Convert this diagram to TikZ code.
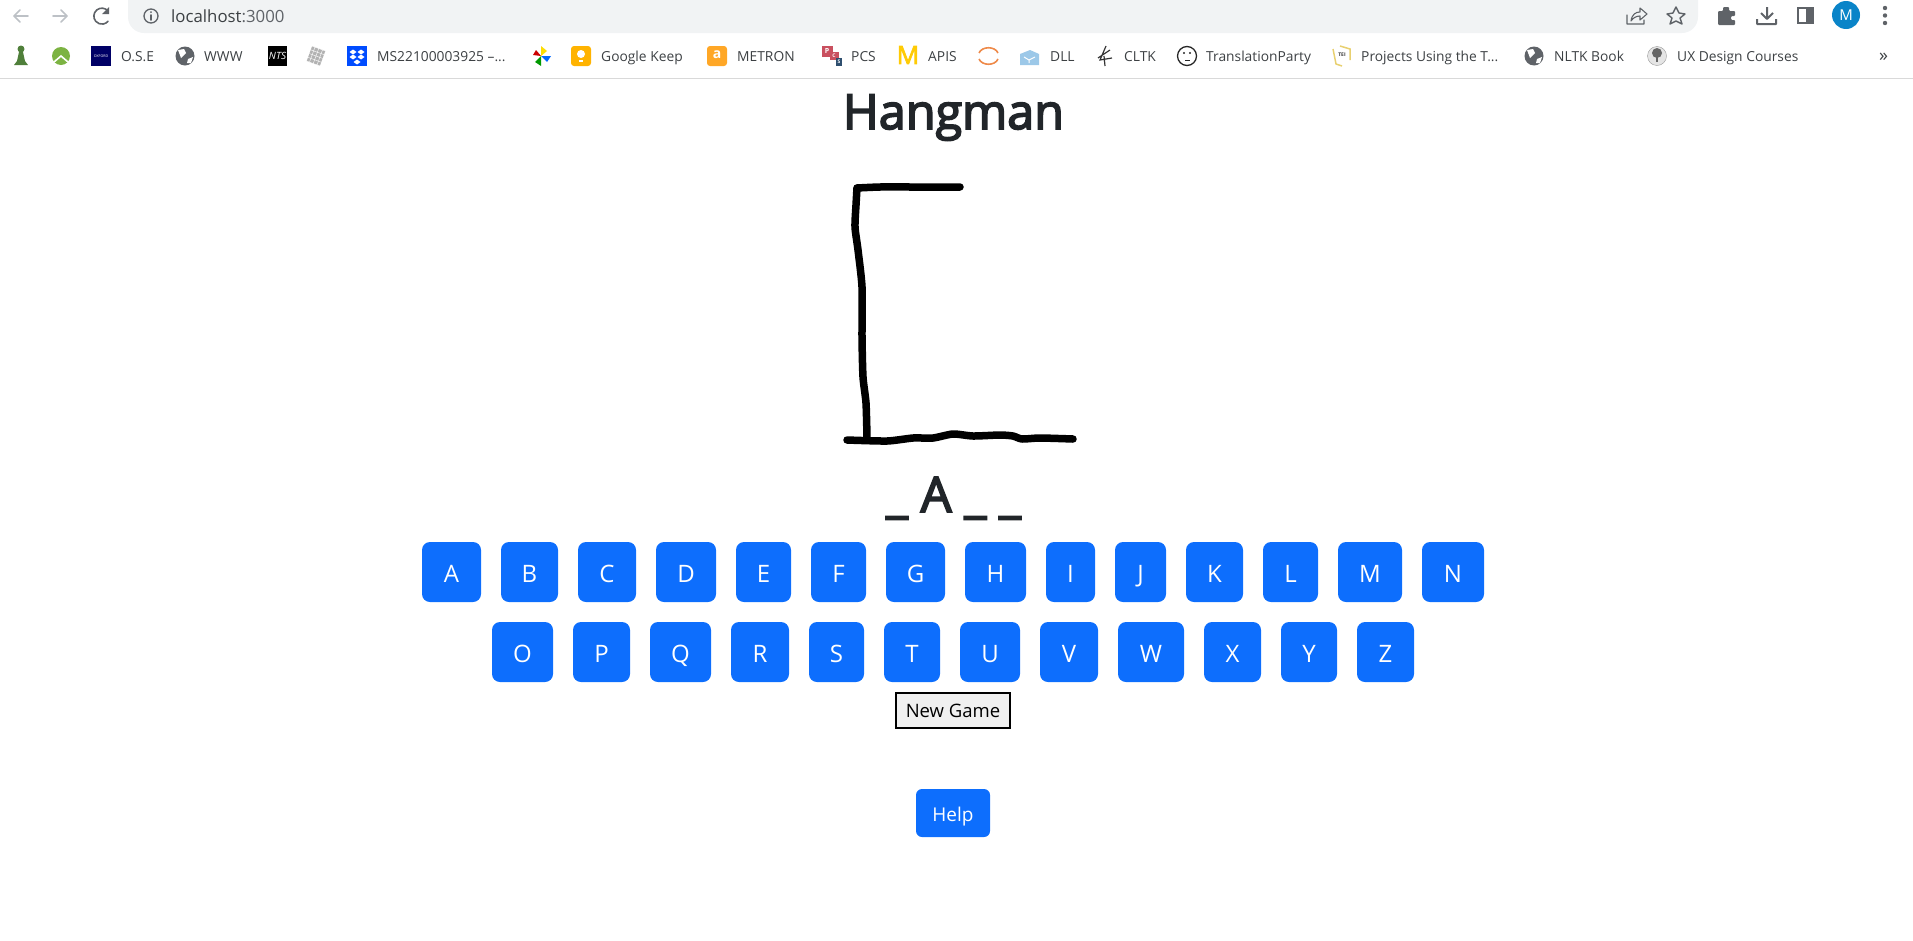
\documentclass[tikz,border=0pt]{standalone}
\usepackage{fontspec}
\setmainfont{Open Sans}
\newfontfamily\headfont[FakeBold=3.5]{Open Sans}
\newfontfamily\markfont[FakeBold=3]{Open Sans}
\usetikzlibrary{positioning}
\definecolor{btnblue}{HTML}{0D6EFD}
\definecolor{inktext}{HTML}{212529}
\definecolor{barfill}{HTML}{F1F3F4}
\definecolor{chromegray}{HTML}{5F6368}
\definecolor{chromelight}{HTML}{BDC1C6}
\definecolor{marktext}{HTML}{3C4043}
\definecolor{avatarblue}{HTML}{0A84C8}
\definecolor{pawngreen}{HTML}{4F7F3A}
\definecolor{droidgreen}{HTML}{7CB342}
\definecolor{keepyellow}{HTML}{FFB300}
\definecolor{metronorange}{HTML}{FFA726}
\definecolor{pcsred}{HTML}{C9505F}
\definecolor{pcsnavy}{HTML}{2F4F6F}
\definecolor{apisyellow}{HTML}{FFCB05}
\definecolor{ringorange}{HTML}{EE8A4A}
\definecolor{dllblue}{HTML}{9CC8E8}
\definecolor{teiyellow}{HTML}{E8D070}
\tikzset{
  letterbtn/.style={fill=btnblue, rounded corners=8pt, inner sep=0pt, text=white, text height=40pt, text depth=20pt, font=\fontsize{24}{28}\selectfont},
  helpbtn/.style={fill=btnblue, rounded corners=6pt, minimum width=74pt, inner sep=0pt, text=white, text height=32pt, text depth=16pt, font=\fontsize{19}{23}\selectfont},
  gamebtn/.style={draw=black, line width=2pt, fill=black!6, minimum width=114pt, minimum height=35pt, inner sep=0pt, text=black, font=\fontsize{18.5}{22}\selectfont},
  marklabel/.style={anchor=base west, inner sep=0pt, text=marktext, font=\fontsize{13.8}{16}\selectfont},
  gallows/.style={line width=7.5pt, line cap=round, line join=round, black},
  toolicon/.style={chromegray, line width=1.6pt, line cap=round, line join=round},
}
\begin{document}
\begin{tikzpicture}[x=1pt, y=-1pt]
  \useasboundingbox (0,0) rectangle (1913,940);
  % browser toolbar
  \fill[barfill, rounded corners=16pt] (128,-20) rectangle (1698,33);
  \draw[black!15] (0,78) -- (1913,78);
  \draw[toolicon, chromelight] (28,16) -- (14,16) (20,10) -- (14,16) -- (20,22);
  \draw[toolicon, chromelight] (53,16) -- (67,16) (61,10) -- (67,16) -- (61,22);
  \draw[toolicon] (108,11) arc[start angle=-40, end angle=-320, radius=8];
  \fill[chromegray] (109,7) -- (109,14) -- (102,14) -- cycle;
  \draw[toolicon, line width=1.3pt] (151,16) circle[radius=7];
  \draw[toolicon, line width=1.6pt] (151,15) -- (151,20) (151,12) -- (151,12.2);
  \node[anchor=base west, inner sep=0pt, text=marktext, font=\fontsize{16.8}{20}\selectfont] (addr) at (171,22) {localhost\textcolor{chromegray}{:3000}};
  \draw[toolicon, line width=1.1pt] (1627,15) -- (1627,24) -- (1644,24) -- (1644,20) (1631,21) .. controls (1632,14) and (1636,12) .. (1640,12) -- (1640,8) -- (1647,14) -- (1640,20) -- (1640,16) .. controls (1636,16) and (1633,18) .. (1631,21);
  \draw[toolicon, line width=1.4pt] (1676,7) -- (1679,13) -- (1685,14) -- (1680,18) -- (1682,24) -- (1676,21) -- (1670,24) -- (1672,18) -- (1667,14) -- (1673,13) -- cycle;
  \fill[chromegray, rounded corners=1pt] (1718,11) -- (1723,11) -- (1723,7) -- (1729,7) -- (1729,11) -- (1735,11) -- (1735,16) -- (1731,16) -- (1731,20) -- (1735,20) -- (1735,25) -- (1718,25) -- cycle;
  \draw[toolicon, line width=2pt, line cap=butt] (1767,7) -- (1767,18) (1761,13) -- (1767,19) -- (1773,13) (1757,19) -- (1757,24) -- (1776,24) -- (1776,19);
  \draw[chromegray, line width=2.4pt] (1798,8) rectangle (1813,23);
  \fill[chromegray] (1806,8) rectangle (1813,23);
  \fill[avatarblue] (1846,15) circle[radius=14];
  \node[text=white, inner sep=0pt, font=\fontsize{15}{18}\selectfont] (avatar) at (1846,15) {M};
  \foreach \ypos in {8,15.5,23} \fill[chromegray] (1885,\ypos) circle[radius=2.2];
  % bookmark icons
  \fill[pawngreen] (21,49) circle[radius=3.5];
  \fill[pawngreen] (19,52) -- (23,52) -- (25,61) -- (28,65) -- (14,65) -- (17,61) -- cycle;
  \fill[droidgreen] (61,56) circle[radius=9];
  \draw[white, line width=1.6pt] (54,62) -- (61,56) -- (68,62);
  \fill[blue!40!black] (91,46) rectangle (111,66);
  \node[text=white, inner sep=0pt, font=\fontsize{3.6}{4}\selectfont] (oxfordmark) at (101,56) {OXFORD};
  \fill[chromegray] (185,56) circle[radius=9.5];
  \fill[white] (178,50) -- (184,49) -- (186,53) -- (181,58) -- cycle (188,59) -- (193,57) -- (191,63) -- (187,63) -- cycle;
  \fill[black] (268,46) rectangle (287,66);
  \node[text=white, inner sep=0pt, font=\fontsize{10}{11}\itshape] (ntsmark) at (277.5,56) {NTS};
  \fill[black!30, rotate around={-20:(316,56)}] (309,48) rectangle (323,64);
  \draw[white, rotate around={-20:(316,56)}, step=4pt] (309,48) grid (323,64);
  \fill[blue!70!cyan] (347,46) rectangle (367,66);
  \foreach \dx/\dy in {353/52, 361/52, 353/57, 361/57, 357/62} \fill[white] (\dx-3.5,\dy) -- (\dx,\dy-2.5) -- (\dx+3.5,\dy) -- (\dx,\dy+2.5) -- cycle;
  \fill[red!80!black] (541,56) -- (533,55) -- (536,50) -- cycle;
  \fill[yellow!80!orange] (541,56) -- (541,46) -- (547,51) -- cycle;
  \fill[blue!60!cyan] (541,56) -- (551,56) -- (547,62) -- cycle;
  \fill[green!60!black] (541,56) -- (541,66) -- (535,62) -- cycle;
  \fill[keepyellow, rounded corners=3pt] (571,46) rectangle (591,66);
  \fill[white] (581,54) circle[radius=4];
  \fill[white] (579,60) rectangle (583,62);
  \fill[metronorange, rounded corners=3pt] (707,46) rectangle (727,66);
  \node[text=white, inner sep=0pt, font=\fontsize{14}{16}\bfseries] (metronmark) at (717,55) {a};
  \fill[pcsred] (822,46) rectangle (833,57);
  \fill[pcsred] (830,52) rectangle (839,60);
  \fill[pcsnavy] (836,58) rectangle (842,66);
  \node[text=white, inner sep=0pt, font=\fontsize{7}{8}\bfseries] (pcsmarkp) at (827,51) {P};
  \node[text=white, inner sep=0pt, font=\fontsize{5}{6}\bfseries] (pcsmarkc) at (834,56) {C};
  \node[text=white, inner sep=0pt, font=\fontsize{5}{6}\bfseries] (pcsmarks) at (839,62) {S};
  \node[text=apisyellow, inner sep=0pt, font=\fontsize{25}{27}\markfont] (apismark) at (908,55) {M};
  \draw[ringorange, line width=1.6pt] (979,53) .. controls (982,46) and (995,46) .. (998,53);
  \draw[ringorange, line width=1.6pt] (979,59) .. controls (982,66) and (995,66) .. (998,59);
  \fill[dllblue] (1020,54) -- (1030,50) -- (1039,54) -- (1039,65) -- (1020,65) -- cycle;
  \draw[white, line width=1pt] (1024,57) -- (1029,60) -- (1035,57) (1029,60) -- (1029,63);
  \draw[black!80, line width=1.2pt] (1106,46) -- (1100,60) -- (1112,58) (1098,58) -- (1110,50) (1104,56) -- (1105,66);
  \draw[black!85, line width=1.3pt] (1187,56) circle[radius=9.5];
  \fill[black!85] (1184,53) circle[radius=1.2] (1190,53) circle[radius=1.2];
  \draw[black!85] (1185,60) -- (1190,60);
  \draw[teiyellow, line width=1.5pt] (1333,49) -- (1336,64) -- (1342,66) (1340,46) -- (1350,49) -- (1350,60);
  \node[text=black!80, inner sep=0pt, font=\fontsize{5}{6}\bfseries] (teimark) at (1342,55) {TEI};
  \fill[chromegray] (1534,56) circle[radius=9.5];
  \fill[white] (1527,50) -- (1533,49) -- (1535,53) -- (1530,58) -- cycle (1537,59) -- (1542,57) -- (1540,63) -- (1536,63) -- cycle;
  \draw[black!40, fill=black!10] (1657,56) circle[radius=9.5];
  \fill[black!60] (1657,53) circle[radius=5];
  \fill[black!60] (1656,54) rectangle (1658,62);
  % bookmark names
  \node[marklabel] (ose) at (121,61) {O.S.E};
  \node[marklabel] (www) at (204,61) {WWW};
  \node[marklabel] (ms) at (377,61) {MS22100003925 –...};
  \node[marklabel] (keep) at (601,61) {Google Keep};
  \node[marklabel] (metron) at (737,61) {METRON};
  \node[marklabel] (pcs) at (851,61) {PCS};
  \node[marklabel] (apis) at (928,61) {APIS};
  \node[marklabel] (dll) at (1050,61) {DLL};
  \node[marklabel] (cltk) at (1124,61) {CLTK};
  \node[marklabel] (party) at (1206,61) {TranslationParty};
  \node[marklabel] (projects) at (1361,61) {Projects Using the T...};
  \node[marklabel] (nltk) at (1554,61) {NLTK Book};
  \node[marklabel] (ux) at (1677,61) {UX Design Courses};
  \node[marklabel, font=\fontsize{18}{20}\selectfont] (more) at (1879,61) {»};
  % page
  \node[anchor=base, inner sep=0pt, text=inktext, font=\fontsize{48.5}{60}\headfont] (title) at (953.5,129) {Hangman};
  \draw[gallows] plot[smooth, tension=0.4] coordinates {(960,187) (913,187) (880,187) (857,188)};
  \draw[gallows] plot[smooth, tension=0.4] coordinates {(857,188) (856,205) (855,227) (858,250) (862,287) (862,337) (863,377) (866,403) (867,438)};
  \draw[gallows] plot[smooth, tension=0.4] coordinates {(847,440) (887,441) (913,438) (933,438) (953,434) (973,436) (1000,435) (1013,436) (1022,439) (1040,438) (1073,439)};
  \node[anchor=base, inner sep=0pt, text=inktext, font=\fontsize{49}{60}\headfont] (word) at (953.5,512) {\_ A \_ \_};
  % letters, first row then second row
  \foreach \ltr/\xa/\xb in {A/422/481, B/501/558, C/578/636, D/656/716, E/736/791, F/811/866, G/886/945, H/965/1026, I/1046/1095, J/1115/1166, K/1186/1243, L/1263/1318, M/1338/1402, N/1422/1484}
    \node[letterbtn, minimum width={(\xb-\xa)*1pt}] (btn\ltr) at ({(\xa+\xb)/2},572) {\ltr};
  \foreach \ltr/\xa/\xb in {O/492/553, P/573/630, Q/650/711, R/731/789, S/809/864, T/884/940, U/960/1020, V/1040/1098, W/1118/1184, X/1204/1261, Y/1281/1337, Z/1357/1414}
    \node[letterbtn, minimum width={(\xb-\xa)*1pt}] (btn\ltr) at ({(\xa+\xb)/2},652) {\ltr};
  \node[gamebtn] (newgame) at (953,710.5) {New Game};
  \node[helpbtn] (help) at (953,813) {Help};
\end{tikzpicture}
\end{document}
